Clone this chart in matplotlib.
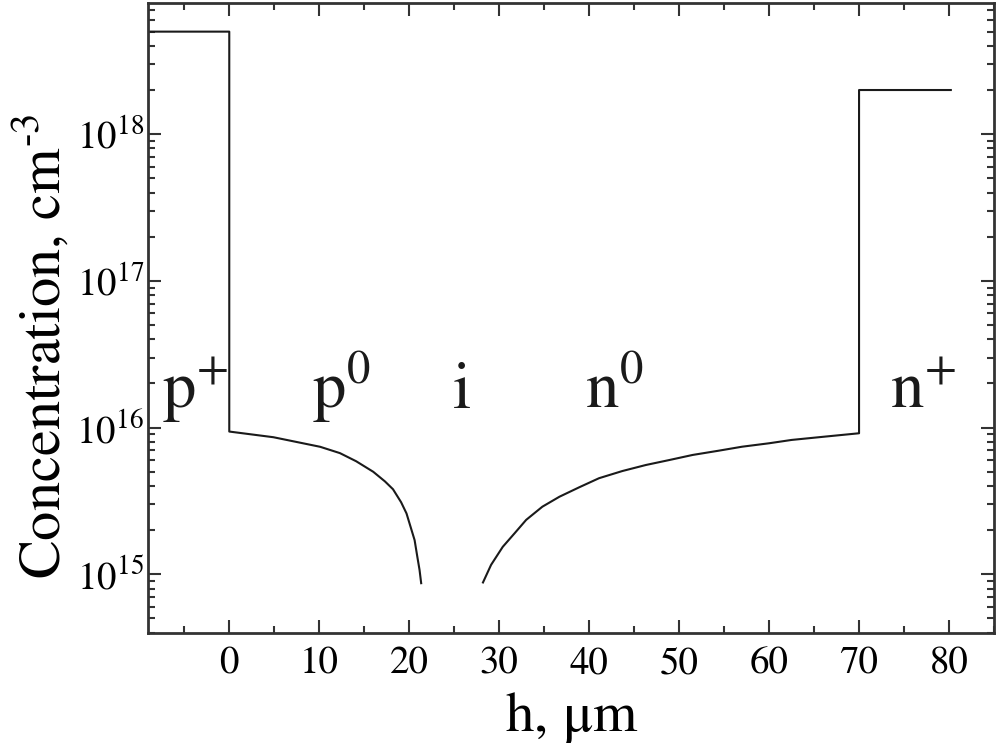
import matplotlib
matplotlib.use('Agg')
import matplotlib.pyplot as plt
import numpy as np
from matplotlib.ticker import LogLocator, MultipleLocator, LogFormatterSciNotation

plt.rcParams['font.family'] = 'STIXGeneral'
plt.rcParams['mathtext.fontset'] = 'stix'

# p+ contact and p0 region
h_pplus = [-9, 0]
n_pplus = [5e18, 5e18]
h_p = [0, 4.9, 10.1, 12.3, 14.1, 16.0, 17.3, 18.2, 19.1, 19.7, 20.2, 20.6, 20.9, 21.15, 21.33]
n_p = [9.4e15, 8.6e15, 7.4e15, 6.7e15, 5.9e15, 5.0e15, 4.3e15, 3.8e15, 3.1e15, 2.6e15,
       2.06e15, 1.71e15, 1.32e15, 1.07e15, 8.7e14]

# n0 region and n+ contact
h_n = [28.2, 29.1, 30.4, 31.7, 33.0, 34.8, 36.7, 38.9, 41.1, 43.7, 46.3, 48.9, 51.5,
       54.4, 57.0, 60.0, 62.5, 66.2, 70.0]
n_n = [8.8e14, 1.16e15, 1.54e15, 1.9e15, 2.35e15, 2.89e15, 3.38e15, 3.92e15, 4.52e15,
       5.06e15, 5.56e15, 6.01e15, 6.51e15, 6.96e15, 7.41e15, 7.82e15, 8.24e15, 8.68e15, 9.15e15]
h_nplus = [70, 80.2]
n_nplus = [2e18, 2e18]

region_labels = [r'$\mathrm{p}^{+}$', r'$\mathrm{p}^{0}$', r'$\mathrm{i}$', r'$\mathrm{n}^{0}$', r'$\mathrm{n}^{+}$']
region_x = [-3.8, 12.4, 25.8, 42.8, 77.1]

fig = plt.figure(figsize=(10, 7.5), dpi=100)
ax = fig.add_axes([0.1483, 0.1564, 0.8457, 0.8392])

ax.plot(h_pplus + h_p, n_pplus + n_p, color='#1a1a1a', lw=1.5)
ax.plot(h_n + h_nplus, n_n + n_nplus, color='#1a1a1a', lw=1.5)

ax.set_yscale('log')
ax.set_xlim(-9, 85)
ax.set_ylim(4e14, 7.8e18)

ax.xaxis.set_major_locator(MultipleLocator(10))
ax.xaxis.set_minor_locator(MultipleLocator(5))
ax.yaxis.set_major_locator(LogLocator(base=10, numticks=10))
ax.yaxis.set_minor_locator(LogLocator(base=10, subs=np.arange(2, 10), numticks=20))
ax.yaxis.set_major_formatter(LogFormatterSciNotation())

ax.tick_params(which='both', direction='in', top=True, right=True, width=1.5, color='#333333')
ax.tick_params(which='major', length=9.5, labelsize=28)
ax.tick_params(which='minor', length=5)
ax.tick_params(axis='x', which='major', pad=10)
ax.tick_params(axis='y', which='major', pad=3)
for s in ax.spines.values():
    s.set_linewidth(2)
    s.set_color('#333333')

ax.set_xlabel(r'h, $\mathrm{\mu}$m', fontsize=41, labelpad=6)
ax.set_ylabel(r'Concentration, cm$^{\text{-3}}$', fontsize=42)
ax.yaxis.set_label_coords(-0.088, 0.455)

for lab, x in zip(region_labels, region_x):
    ax.text(x, 1.36e16, lab, fontsize=48, ha='center', va='baseline', color='#1a1a1a')

fig.savefig('out.png', dpi=100)
